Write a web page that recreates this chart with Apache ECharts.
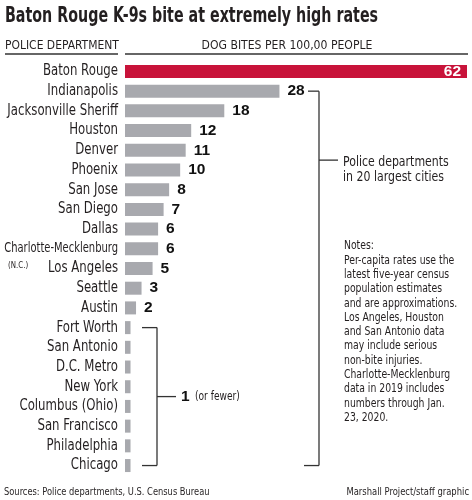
<!DOCTYPE html>
<html><head><meta charset="utf-8">
<script src="https://cdn.jsdelivr.net/npm/echarts@6/dist/echarts.min.js"></script>
<style>html,body{margin:0;padding:0;background:#fff}#c{width:472px;height:500px}</style>
</head><body><div id="c"></div>
<script>
const departments = ['Baton Rouge','Indianapolis','Jacksonville Sheriff','Houston','Denver','Phoenix','San Jose','San Diego','Dallas','Charlotte-Mecklenburg','Los Angeles','Seattle','Austin','Fort Worth','San Antonio','D.C. Metro','New York','Columbus (Ohio)','San Francisco','Philadelphia','Chicago'];
const bitesPer100k = [62,28,18,12,11,10,8,7,6,6,5,3,2,1,1,1,1,1,1,1,1];
const valueLabels = ['62','28','18','12','11','10','8','7','6','6','5','3','2','','','','','','','',''];
const highlight = 'Baton Rouge';
const titleText = 'Baton Rouge K-9s bite at extremely high rates';
const leftHeader = 'POLICE DEPARTMENT';
const rightHeader = 'DOG BITES PER 100,00 PEOPLE';
const bracketTopText = ['Police departments', 'in 20 largest cities'];
const notesLines = ['Per-capita rates use the','latest five-year census','population estimates','and are approximations.','Los Angeles, Houston','and San Antonio data','may include serious','non-bite injuries.','Charlotte-Mecklenburg','data in 2019 includes','numbers through Jan.','23, 2020.'];
const sourceText = 'Sources: Police departments, U.S. Census Bureau';
const creditText = 'Marshall Project/staff graphic';

const NARROW = "'DejaVu Sans Condensed','Liberation Sans Narrow',sans-serif";
const BOLDNUM = "'Liberation Sans',Arial,sans-serif";
const INK = '#231f20';
const RED = '#c8133a';
const GREY = '#a8a9ae';

const chart = echarts.init(document.getElementById('c'), null, {renderer: 'canvas'});

const seriesData = bitesPer100k.map((v, i) => {
  const isHi = departments[i] === highlight;
  return {
    value: v,
    itemStyle: {color: isHi ? RED : GREY},
    label: isHi ? {position: 'insideRight', color: '#fff', distance: 6} : {}
  };
});

chart.setOption({
  animation: false,
  grid: {left: 125, right: 5, top: 61.6, bottom: 24.6, containLabel: false, outerBoundsMode: 'none'},
  xAxis: {type: 'value', min: 0, max: 62, show: false},
  yAxis: {
    type: 'category', data: departments, inverse: true,
    axisLine: {show: false}, axisTick: {show: false}, axisLabel: {show: false}
  },
  series: [{
    type: 'bar', data: seriesData, barWidth: 13,
    label: {
      show: true, position: 'right', distance: 8,
      fontFamily: BOLDNUM, fontWeight: 'bold', fontSize: 15.5, color: '#111',
      formatter: p => valueLabels[p.dataIndex]
    }
  }]
});

function yOf(name) { return chart.convertToPixel({yAxisIndex: 0}, name); }
const line = (x1, y1, x2, y2, w) => ({type: 'line', shape: {x1, y1, x2, y2}, style: {stroke: '#333', lineWidth: w || 1.3}, silent: true});
const txt = (x, y, text, font, sx, extra) => ({type: 'text', x, y, scaleX: sx || 1, originX: 0, originY: 0,
  style: Object.assign({text, fill: INK, font, textVerticalAlign: 'middle'}, extra || {}), silent: true});

const yTop = yOf(departments[1]);
const yBot = yOf(departments[departments.length - 1]);
const yMid1 = (yOf('Denver') + yOf('Phoenix')) / 2;
const yFirstOne = yOf('Fort Worth');
const yMid2 = (yFirstOne + yBot) / 2;
const yChar = yOf('Charlotte-Mecklenburg');

const g = [
  txt(5, 17, titleText, "bold 21px " + NARROW, 0.755),
  txt(5, 45.5, leftHeader, "13px " + NARROW, 0.92),
  txt(287, 45.5, rightHeader, "13px " + NARROW, 0.93, {textAlign: 'center'}),
  line(5, 54, 118, 54, 1.6),
  line(125, 54, 468, 54, 1.6),
  txt(8, yChar + 17, '(N.C.)', "9px " + NARROW, 0.87),
  // big bracket
  line(308, yTop, 319, yTop),
  line(319, yTop, 319, yBot),
  line(304, yBot, 319, yBot),
  line(319, yMid1, 338, yMid1),
  txt(343, yMid1 + 2, bracketTopText[0], "14px " + NARROW, 0.87),
  txt(343, yMid1 + 17, bracketTopText[1], "14px " + NARROW, 0.87),
  // notes
  txt(344, 246, 'Notes:', "12px " + NARROW, 0.86),
  // small bracket
  line(142, yFirstOne, 157, yFirstOne),
  line(157, yFirstOne, 157, yBot),
  line(142, yBot, 157, yBot),
  line(157, yMid2, 176, yMid2),
  txt(181, yMid2, '1', "bold 15.5px " + BOLDNUM, 1, {fill: '#111'}),
  txt(195, yMid2, '(or fewer)', "11.5px " + NARROW, 0.88),
  txt(4, 492, sourceText, "11px " + NARROW, 0.84),
  txt(469, 492, creditText, "11px " + NARROW, 0.85, {textAlign: 'right'})
];
notesLines.forEach((l, i) => g.push(txt(344, 260.5 + i * 14.3, l, "12px " + NARROW, 0.86)));
departments.forEach(d => {
  const isChar = d === 'Charlotte-Mecklenburg';
  g.push(txt(118, yOf(d), d, (isChar ? "14px " : "15px ") + NARROW, isChar ? 0.79 : 0.87, {textAlign: 'right'}));
});
chart.setOption({graphic: g});
</script>
</body></html>
